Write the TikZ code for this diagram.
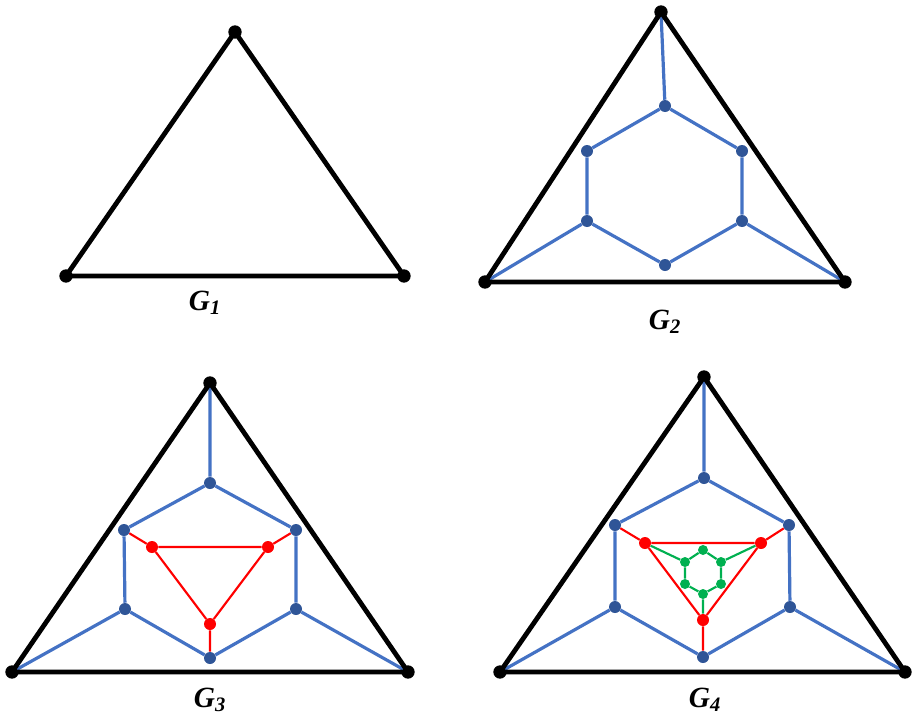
\documentclass[tikz,border=0pt]{standalone}
\usepackage{fontspec}
\setmainfont{Liberation Serif}
\begin{document}
\begin{tikzpicture}[x=0.75pt,y=-0.75pt,
  bk/.style={line width=3.6pt,black,line join=round},
  bl/.style={line width=2.4pt,color=blueL},
  rd/.style={line width=1.6pt,red},
  gr/.style={line width=1.6pt,color=grn},
  kd/.style={circle,fill=black,inner sep=0pt,minimum size=10pt},
  bd/.style={circle,fill=blueD,inner sep=0pt,minimum size=9pt},
  rdot/.style={circle,fill=red,inner sep=0pt,minimum size=9pt},
  gd/.style={circle,fill=grn,inner sep=0pt,minimum size=7.5pt},
  lab/.style={font=\fontsize{22}{24}\selectfont\bfseries\itshape}]
\definecolor{blueL}{RGB}{68,114,196}
\definecolor{blueD}{RGB}{47,85,151}
\definecolor{grn}{RGB}{0,176,80}
\useasboundingbox (0,0) rectangle (916,721);
% G1
\node[kd] (a1) at (235,32) {};
\node[kd] (a2) at (66,276) {};
\node[kd] (a3) at (404,276) {};
\draw[bk] (a1.center)--(a2.center)--(a3.center)--cycle;
\node[lab] (l1) at (205,303) {G\textsubscript{1}};
% G2
\node[kd] (b1) at (661,12) {};
\node[kd] (b2) at (485,282) {};
\node[kd] (b3) at (845,282) {};
\node[bd] (h1) at (665,106) {};
\node[bd] (h2) at (587,151) {};
\node[bd] (h3) at (742,151) {};
\node[bd] (h4) at (587,221) {};
\node[bd] (h5) at (742,221) {};
\node[bd] (h6) at (665,265) {};
\draw[bl] (h1)--(h2)--(h4)--(h6)--(h5)--(h3)--(h1);
\draw[bl] (b1.center)--(h1) (b2.center)--(h4) (b3.center)--(h5);
\draw[bk] (b1.center)--(b2.center)--(b3.center)--cycle;
\node[lab] (l2) at (665,322) {G\textsubscript{2}};
% G3
\node[kd] (c1) at (210,383) {};
\node[kd] (c2) at (12,672) {};
\node[kd] (c3) at (408,672) {};
\node[bd] (p1) at (210,483) {};
\node[bd] (p2) at (124,530) {};
\node[bd] (p3) at (296,530) {};
\node[bd] (p4) at (125,609) {};
\node[bd] (p5) at (296,609) {};
\node[bd] (p6) at (210,658) {};
\node[rdot] (r1) at (152,547) {};
\node[rdot] (r2) at (268,547) {};
\node[rdot] (r3) at (210,624) {};
\draw[bl] (p1)--(p2)--(p4)--(p6)--(p5)--(p3)--(p1);
\draw[bl] (c1.center)--(p1) (c2.center)--(p4) (c3.center)--(p5);
\draw[rd] (r1)--(r2)--(r3)--(r1) (p2)--(r1) (p3)--(r2) (p6)--(r3);
\draw[bk] (c1.center)--(c2.center)--(c3.center)--cycle;
\node[lab] (l3) at (210,700) {G\textsubscript{3}};
% G4
\node[kd] (d1) at (704,377) {};
\node[kd] (d2) at (500,672) {};
\node[kd] (d3) at (905,672) {};
\node[bd] (q1) at (704,478) {};
\node[bd] (q2) at (615,525) {};
\node[bd] (q3) at (789,525) {};
\node[bd] (q4) at (615,607) {};
\node[bd] (q5) at (790,607) {};
\node[bd] (q6) at (703,657) {};
\node[rdot] (s1) at (645,543) {};
\node[rdot] (s2) at (761,543) {};
\node[rdot] (s3) at (703,620) {};
\node[gd] (g1) at (703,550) {};
\node[gd] (g2) at (685,562) {};
\node[gd] (g3) at (721,562) {};
\node[gd] (g4) at (685,584) {};
\node[gd] (g5) at (721,584) {};
\node[gd] (g6) at (703,594) {};
\draw[bl] (q1)--(q2)--(q4)--(q6)--(q5)--(q3)--(q1);
\draw[bl] (d1.center)--(q1) (d2.center)--(q4) (d3.center)--(q5);
\draw[gr] (g1)--(g2)--(g4)--(g6)--(g5)--(g3)--(g1) (s1)--(g2) (s2)--(g3) (s3)--(g6);
\draw[rd] (s1)--(s2)--(s3)--(s1) (q2)--(s1) (q3)--(s2) (q6)--(s3);
\draw[bk] (d1.center)--(d2.center)--(d3.center)--cycle;
\node[lab] (l4) at (705,700) {G\textsubscript{4}};
\end{tikzpicture}
\end{document}
